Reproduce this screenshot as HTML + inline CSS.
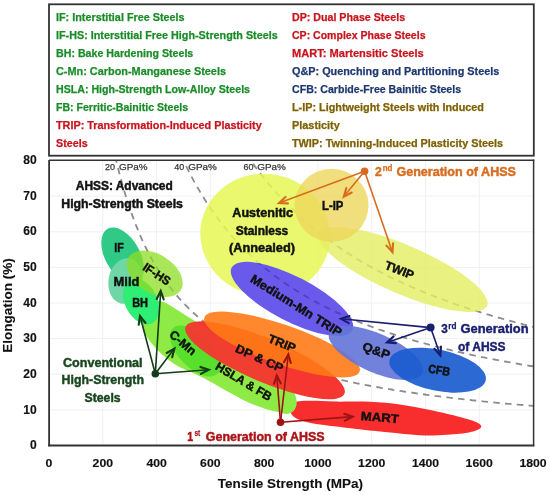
<!DOCTYPE html>
<html><head><meta charset="utf-8"><style>
html,body{margin:0;padding:0;background:#fff;}
svg{display:block;font-family:"Liberation Sans", Arial, sans-serif;}
</style></head><body>
<svg width="550" height="495" viewBox="0 0 550 495">
<rect x="49" y="4.3" width="484.8" height="151.4" fill="#fff" stroke="#333" stroke-width="1.8"/>
<text x="56" y="20.5" font-size="11" fill="#1a8c28" font-weight="bold" stroke="#1a8c28" stroke-width="0.25" textLength="128.6" lengthAdjust="spacingAndGlyphs">IF: Interstitial Free Steels</text>
<text x="56" y="38.6" font-size="11" fill="#1a8c28" font-weight="bold" stroke="#1a8c28" stroke-width="0.25" textLength="221.7" lengthAdjust="spacingAndGlyphs">IF-HS: Interstitial Free High-Strength Steels</text>
<text x="56" y="56.7" font-size="11" fill="#1a8c28" font-weight="bold" stroke="#1a8c28" stroke-width="0.25" textLength="137.3" lengthAdjust="spacingAndGlyphs">BH: Bake Hardening Steels</text>
<text x="56" y="74.8" font-size="11" fill="#1a8c28" font-weight="bold" stroke="#1a8c28" stroke-width="0.25" textLength="170.0" lengthAdjust="spacingAndGlyphs">C-Mn: Carbon-Manganese Steels</text>
<text x="56" y="92.9" font-size="11" fill="#1a8c28" font-weight="bold" stroke="#1a8c28" stroke-width="0.25" textLength="194.0" lengthAdjust="spacingAndGlyphs">HSLA: High-Strength Low-Alloy Steels</text>
<text x="56" y="111.0" font-size="11" fill="#1a8c28" font-weight="bold" stroke="#1a8c28" stroke-width="0.25" textLength="132.1" lengthAdjust="spacingAndGlyphs">FB: Ferritic-Bainitic Steels</text>
<text x="56" y="129.1" font-size="11" fill="#c8141e" font-weight="bold" stroke="#c8141e" stroke-width="0.25" textLength="205.7" lengthAdjust="spacingAndGlyphs">TRIP: Transformation-Induced Plasticity</text>
<text x="56" y="147.2" font-size="11" fill="#c8141e" font-weight="bold" stroke="#c8141e" stroke-width="0.25" textLength="31.6" lengthAdjust="spacingAndGlyphs">Steels</text>
<text x="292" y="20.5" font-size="11" fill="#c8141e" font-weight="bold" stroke="#c8141e" stroke-width="0.25" textLength="113.1" lengthAdjust="spacingAndGlyphs">DP: Dual Phase Steels</text>
<text x="292" y="38.6" font-size="11" fill="#c8141e" font-weight="bold" stroke="#c8141e" stroke-width="0.25" textLength="133.5" lengthAdjust="spacingAndGlyphs">CP: Complex Phase Steels</text>
<text x="292" y="56.7" font-size="11" fill="#c8141e" font-weight="bold" stroke="#c8141e" stroke-width="0.25" textLength="131.7" lengthAdjust="spacingAndGlyphs">MART: Martensitic Steels</text>
<text x="292" y="74.8" font-size="11" fill="#1f3870" font-weight="bold" stroke="#1f3870" stroke-width="0.25" textLength="207.3" lengthAdjust="spacingAndGlyphs">Q&amp;P: Quenching and Partitioning Steels</text>
<text x="292" y="92.9" font-size="11" fill="#1f3870" font-weight="bold" stroke="#1f3870" stroke-width="0.25" textLength="169.1" lengthAdjust="spacingAndGlyphs">CFB: Carbide-Free Bainitic Steels</text>
<text x="292" y="111.0" font-size="11" fill="#7f6000" font-weight="bold" stroke="#7f6000" stroke-width="0.25" textLength="192.0" lengthAdjust="spacingAndGlyphs">L-IP: Lightweight Steels with Induced</text>
<text x="292" y="129.1" font-size="11" fill="#7f6000" font-weight="bold" stroke="#7f6000" stroke-width="0.25" textLength="47.8" lengthAdjust="spacingAndGlyphs">Plasticity</text>
<text x="292" y="147.2" font-size="11" fill="#7f6000" font-weight="bold" stroke="#7f6000" stroke-width="0.25" textLength="211.1" lengthAdjust="spacingAndGlyphs">TWIP: Twinning-Induced Plasticity Steels</text>
<rect x="49" y="160.5" width="484.5" height="285" fill="#fff"/>
<line x1="102.8" y1="161" x2="102.8" y2="445" stroke="#f0f0f0" stroke-width="1"/>
<line x1="156.6" y1="161" x2="156.6" y2="445" stroke="#f0f0f0" stroke-width="1"/>
<line x1="210.3" y1="161" x2="210.3" y2="445" stroke="#f0f0f0" stroke-width="1"/>
<line x1="264.1" y1="161" x2="264.1" y2="445" stroke="#f0f0f0" stroke-width="1"/>
<line x1="317.9" y1="161" x2="317.9" y2="445" stroke="#f0f0f0" stroke-width="1"/>
<line x1="371.7" y1="161" x2="371.7" y2="445" stroke="#f0f0f0" stroke-width="1"/>
<line x1="425.5" y1="161" x2="425.5" y2="445" stroke="#f0f0f0" stroke-width="1"/>
<line x1="479.2" y1="161" x2="479.2" y2="445" stroke="#f0f0f0" stroke-width="1"/>
<line x1="50" y1="409.9" x2="533" y2="409.9" stroke="#f0f0f0" stroke-width="1"/>
<line x1="50" y1="374.2" x2="533" y2="374.2" stroke="#f0f0f0" stroke-width="1"/>
<line x1="50" y1="338.6" x2="533" y2="338.6" stroke="#f0f0f0" stroke-width="1"/>
<line x1="50" y1="303.0" x2="533" y2="303.0" stroke="#f0f0f0" stroke-width="1"/>
<line x1="50" y1="267.4" x2="533" y2="267.4" stroke="#f0f0f0" stroke-width="1"/>
<line x1="50" y1="231.8" x2="533" y2="231.8" stroke="#f0f0f0" stroke-width="1"/>
<line x1="50" y1="196.1" x2="533" y2="196.1" stroke="#f0f0f0" stroke-width="1"/>
<polyline points="116.2,160.5 118.3,169.1 120.4,177.1 122.5,184.7 124.6,191.9 126.6,198.7 128.7,205.2 130.8,211.3 132.9,217.1 135.0,222.7 137.1,227.9 139.1,233.0 141.2,237.8 143.3,242.4 145.4,246.8 147.5,251.0 149.6,255.0 151.7,258.9 153.7,262.6 155.8,266.1 157.9,269.6 160.0,272.9 162.1,276.1 164.2,279.1 166.2,282.1 168.3,284.9 170.4,287.7 172.5,290.4 174.6,292.9 176.7,295.4 178.7,297.8 180.8,300.2 182.9,302.4 185.0,304.6 187.1,306.7 189.2,308.8 191.2,310.8 193.3,312.8 195.4,314.6 197.5,316.5 199.6,318.3 201.7,320.0 203.8,321.7 205.8,323.3 207.9,324.9 210.0,326.5 212.1,328.0 214.2,329.5 216.3,331.0 218.3,332.4 220.4,333.7 222.5,335.1 224.6,336.4 226.7,337.7 228.8,338.9 230.8,340.1 232.9,341.3 235.0,342.5 237.1,343.6 239.2,344.8 241.3,345.8 243.3,346.9 245.4,348.0 247.5,349.0 249.6,350.0 251.7,351.0 253.8,351.9 255.9,352.9 257.9,353.8 260.0,354.7 262.1,355.6 264.2,356.5 266.3,357.3 268.4,358.2 270.4,359.0 272.5,359.8 274.6,360.6 276.7,361.4 278.8,362.1 280.9,362.9 282.9,363.6 285.0,364.3 287.1,365.0 289.2,365.7 291.3,366.4 293.4,367.1 295.4,367.8 297.5,368.4 299.6,369.1 301.7,369.7 303.8,370.3 305.9,370.9 308.0,371.5 310.0,372.1 312.1,372.7 314.2,373.3 316.3,373.8 318.4,374.4 320.5,374.9 322.5,375.5 324.6,376.0 326.7,376.5 328.8,377.0 330.9,377.5 333.0,378.0 335.0,378.5 337.1,379.0 339.2,379.5 341.3,380.0 343.4,380.4 345.5,380.9 347.5,381.3 349.6,381.8 351.7,382.2 353.8,382.6 355.9,383.1 358.0,383.5 360.1,383.9 362.1,384.3 364.2,384.7 366.3,385.1 368.4,385.5 370.5,385.9 372.6,386.3 374.6,386.7 376.7,387.0 378.8,387.4 380.9,387.8 383.0,388.1 385.1,388.5 387.1,388.8 389.2,389.2 391.3,389.5 393.4,389.9 395.5,390.2 397.6,390.5 399.6,390.9 401.7,391.2 403.8,391.5 405.9,391.8 408.0,392.1 410.1,392.4 412.1,392.7 414.2,393.0 416.3,393.3 418.4,393.6 420.5,393.9 422.6,394.2 424.7,394.5 426.7,394.8 428.8,395.1 430.9,395.3 433.0,395.6 435.1,395.9 437.2,396.1 439.2,396.4 441.3,396.7 443.4,396.9 445.5,397.2 447.6,397.4 449.7,397.7 451.7,397.9 453.8,398.2 455.9,398.4 458.0,398.7 460.1,398.9 462.2,399.1 464.2,399.4 466.3,399.6 468.4,399.8 470.5,400.0 472.6,400.3 474.7,400.5 476.8,400.7 478.8,400.9 480.9,401.1 483.0,401.4 485.1,401.6 487.2,401.8 489.3,402.0 491.3,402.2 493.4,402.4 495.5,402.6 497.6,402.8 499.7,403.0 501.8,403.2 503.8,403.4 505.9,403.6 508.0,403.8 510.1,403.9 512.2,404.1 514.3,404.3 516.3,404.5 518.4,404.7 520.5,404.9 522.6,405.0 524.7,405.2 526.8,405.4 528.9,405.6 530.9,405.7 533.0,405.9" fill="none" stroke="#8c8c8c" stroke-width="1.8" stroke-dasharray="6.5,5.3" stroke-dashoffset="4.14"/>
<polyline points="183.4,160.5 185.2,164.2 186.9,167.7 188.7,171.2 190.4,174.6 192.2,177.9 193.9,181.1 195.7,184.3 197.4,187.3 199.2,190.4 200.9,193.3 202.7,196.2 204.4,199.0 206.2,201.7 207.9,204.4 209.7,207.0 211.4,209.6 213.2,212.1 214.9,214.5 216.7,217.0 218.4,219.3 220.2,221.6 221.9,223.9 223.7,226.1 225.4,228.3 227.1,230.4 228.9,232.5 230.6,234.5 232.4,236.6 234.1,238.5 235.9,240.5 237.6,242.4 239.4,244.2 241.1,246.1 242.9,247.9 244.6,249.6 246.4,251.4 248.1,253.1 249.9,254.7 251.6,256.4 253.4,258.0 255.1,259.6 256.9,261.2 258.6,262.7 260.4,264.2 262.1,265.7 263.9,267.2 265.6,268.6 267.3,270.0 269.1,271.4 270.8,272.8 272.6,274.1 274.3,275.5 276.1,276.8 277.8,278.0 279.6,279.3 281.3,280.6 283.1,281.8 284.8,283.0 286.6,284.2 288.3,285.4 290.1,286.5 291.8,287.7 293.6,288.8 295.3,289.9 297.1,291.0 298.8,292.1 300.6,293.2 302.3,294.2 304.1,295.3 305.8,296.3 307.5,297.3 309.3,298.3 311.0,299.3 312.8,300.2 314.5,301.2 316.3,302.1 318.0,303.1 319.8,304.0 321.5,304.9 323.3,305.8 325.0,306.7 326.8,307.6 328.5,308.4 330.3,309.3 332.0,310.1 333.8,310.9 335.5,311.8 337.3,312.6 339.0,313.4 340.8,314.2 342.5,314.9 344.3,315.7 346.0,316.5 347.7,317.2 349.5,318.0 351.2,318.7 353.0,319.4 354.7,320.2 356.5,320.9 358.2,321.6 360.0,322.3 361.7,323.0 363.5,323.7 365.2,324.3 367.0,325.0 368.7,325.7 370.5,326.3 372.2,326.9 374.0,327.6 375.7,328.2 377.5,328.8 379.2,329.5 381.0,330.1 382.7,330.7 384.5,331.3 386.2,331.9 387.9,332.4 389.7,333.0 391.4,333.6 393.2,334.2 394.9,334.7 396.7,335.3 398.4,335.8 400.2,336.4 401.9,336.9 403.7,337.5 405.4,338.0 407.2,338.5 408.9,339.0 410.7,339.6 412.4,340.1 414.2,340.6 415.9,341.1 417.7,341.6 419.4,342.1 421.2,342.5 422.9,343.0 424.7,343.5 426.4,344.0 428.1,344.4 429.9,344.9 431.6,345.4 433.4,345.8 435.1,346.3 436.9,346.7 438.6,347.2 440.4,347.6 442.1,348.0 443.9,348.5 445.6,348.9 447.4,349.3 449.1,349.7 450.9,350.2 452.6,350.6 454.4,351.0 456.1,351.4 457.9,351.8 459.6,352.2 461.4,352.6 463.1,353.0 464.9,353.4 466.6,353.7 468.3,354.1 470.1,354.5 471.8,354.9 473.6,355.3 475.3,355.6 477.1,356.0 478.8,356.4 480.6,356.7 482.3,357.1 484.1,357.4 485.8,357.8 487.6,358.1 489.3,358.5 491.1,358.8 492.8,359.2 494.6,359.5 496.3,359.8 498.1,360.2 499.8,360.5 501.6,360.8 503.3,361.2 505.1,361.5 506.8,361.8 508.6,362.1 510.3,362.4 512.0,362.7 513.8,363.1 515.5,363.4 517.3,363.7 519.0,364.0 520.8,364.3 522.5,364.6 524.3,364.9 526.0,365.2 527.8,365.5 529.5,365.8 531.3,366.0 533.0,366.3" fill="none" stroke="#8c8c8c" stroke-width="1.8" stroke-dasharray="6.5,5.3" stroke-dashoffset="5.57"/>
<polyline points="250.7,160.5 252.1,162.5 253.5,164.4 254.9,166.4 256.3,168.3 257.7,170.1 259.1,172.0 260.6,173.8 262.0,175.6 263.4,177.4 264.8,179.1 266.2,180.9 267.6,182.6 269.0,184.3 270.4,185.9 271.9,187.6 273.3,189.2 274.7,190.8 276.1,192.4 277.5,194.0 278.9,195.5 280.3,197.0 281.7,198.5 283.1,200.0 284.6,201.5 286.0,202.9 287.4,204.4 288.8,205.8 290.2,207.2 291.6,208.6 293.0,210.0 294.4,211.3 295.9,212.7 297.3,214.0 298.7,215.3 300.1,216.6 301.5,217.9 302.9,219.1 304.3,220.4 305.7,221.6 307.1,222.8 308.6,224.1 310.0,225.3 311.4,226.4 312.8,227.6 314.2,228.8 315.6,229.9 317.0,231.1 318.4,232.2 319.8,233.3 321.3,234.4 322.7,235.5 324.1,236.6 325.5,237.6 326.9,238.7 328.3,239.7 329.7,240.8 331.1,241.8 332.6,242.8 334.0,243.8 335.4,244.8 336.8,245.8 338.2,246.8 339.6,247.7 341.0,248.7 342.4,249.6 343.8,250.6 345.3,251.5 346.7,252.4 348.1,253.3 349.5,254.2 350.9,255.1 352.3,256.0 353.7,256.9 355.1,257.8 356.6,258.6 358.0,259.5 359.4,260.3 360.8,261.2 362.2,262.0 363.6,262.8 365.0,263.6 366.4,264.4 367.8,265.2 369.3,266.0 370.7,266.8 372.1,267.6 373.5,268.4 374.9,269.1 376.3,269.9 377.7,270.7 379.1,271.4 380.6,272.1 382.0,272.9 383.4,273.6 384.8,274.3 386.2,275.0 387.6,275.8 389.0,276.5 390.4,277.2 391.8,277.9 393.3,278.5 394.7,279.2 396.1,279.9 397.5,280.6 398.9,281.2 400.3,281.9 401.7,282.5 403.1,283.2 404.6,283.8 406.0,284.5 407.4,285.1 408.8,285.7 410.2,286.4 411.6,287.0 413.0,287.6 414.4,288.2 415.8,288.8 417.3,289.4 418.7,290.0 420.1,290.6 421.5,291.2 422.9,291.8 424.3,292.4 425.7,292.9 427.1,293.5 428.6,294.1 430.0,294.6 431.4,295.2 432.8,295.7 434.2,296.3 435.6,296.8 437.0,297.4 438.4,297.9 439.8,298.4 441.3,299.0 442.7,299.5 444.1,300.0 445.5,300.5 446.9,301.0 448.3,301.6 449.7,302.1 451.1,302.6 452.6,303.1 454.0,303.6 455.4,304.1 456.8,304.6 458.2,305.0 459.6,305.5 461.0,306.0 462.4,306.5 463.8,306.9 465.3,307.4 466.7,307.9 468.1,308.3 469.5,308.8 470.9,309.3 472.3,309.7 473.7,310.2 475.1,310.6 476.6,311.1 478.0,311.5 479.4,311.9 480.8,312.4 482.2,312.8 483.6,313.2 485.0,313.7 486.4,314.1 487.8,314.5 489.3,314.9 490.7,315.4 492.1,315.8 493.5,316.2 494.9,316.6 496.3,317.0 497.7,317.4 499.1,317.8 500.6,318.2 502.0,318.6 503.4,319.0 504.8,319.4 506.2,319.8 507.6,320.2 509.0,320.6 510.4,320.9 511.8,321.3 513.3,321.7 514.7,322.1 516.1,322.4 517.5,322.8 518.9,323.2 520.3,323.5 521.7,323.9 523.1,324.3 524.5,324.6 526.0,325.0 527.4,325.3 528.8,325.7 530.2,326.1 531.6,326.4 533.0,326.8" fill="none" stroke="#8c8c8c" stroke-width="1.8" stroke-dasharray="6.5,5.3" stroke-dashoffset="7.8"/>
<text x="105.1" y="170.4" font-size="9.6" fill="#363636" stroke="#363636" stroke-width="0.25" textLength="10" lengthAdjust="spacingAndGlyphs">20</text>
<text x="119.0" y="170.4" font-size="9.6" fill="#363636" stroke="#363636" stroke-width="0.25" textLength="28.6" lengthAdjust="spacingAndGlyphs">GPa%</text>
<text x="174.3" y="170.4" font-size="9.6" fill="#363636" stroke="#363636" stroke-width="0.25" textLength="10" lengthAdjust="spacingAndGlyphs">40</text>
<text x="188.2" y="170.4" font-size="9.6" fill="#363636" stroke="#363636" stroke-width="0.25" textLength="28.6" lengthAdjust="spacingAndGlyphs">GPa%</text>
<text x="243.4" y="170.4" font-size="9.6" fill="#363636" stroke="#363636" stroke-width="0.25" textLength="10" lengthAdjust="spacingAndGlyphs">60</text>
<text x="257.3" y="170.4" font-size="9.6" fill="#363636" stroke="#363636" stroke-width="0.25" textLength="28.6" lengthAdjust="spacingAndGlyphs">GPa%</text>
<ellipse cx="265.2" cy="234.9" rx="65" ry="61" transform="rotate(10 265.2 234.9)" fill="#e5f754" fill-opacity="0.85"/>
<ellipse cx="403" cy="269.5" rx="91.5" ry="24.3" transform="rotate(23.3 403 269.5)" fill="#e4ee60" fill-opacity="0.8"/>
<ellipse cx="331.5" cy="205.3" rx="37" ry="36.6" transform="rotate(0 331.5 205.3)" fill="#eed75c" fill-opacity="0.8"/>
<ellipse cx="292" cy="298.9" rx="68" ry="22.3" transform="rotate(27.4 292 298.9)" fill="#695aec"/>
<clipPath id="cpMM"><ellipse cx="292" cy="298.9" rx="68" ry="22.3" transform="rotate(27.4 292 298.9)"/></clipPath>
<polyline points="183.4,160.5 185.2,164.2 186.9,167.7 188.7,171.2 190.4,174.6 192.2,177.9 193.9,181.1 195.7,184.3 197.4,187.3 199.2,190.4 200.9,193.3 202.7,196.2 204.4,199.0 206.2,201.7 207.9,204.4 209.7,207.0 211.4,209.6 213.2,212.1 214.9,214.5 216.7,217.0 218.4,219.3 220.2,221.6 221.9,223.9 223.7,226.1 225.4,228.3 227.1,230.4 228.9,232.5 230.6,234.5 232.4,236.6 234.1,238.5 235.9,240.5 237.6,242.4 239.4,244.2 241.1,246.1 242.9,247.9 244.6,249.6 246.4,251.4 248.1,253.1 249.9,254.7 251.6,256.4 253.4,258.0 255.1,259.6 256.9,261.2 258.6,262.7 260.4,264.2 262.1,265.7 263.9,267.2 265.6,268.6 267.3,270.0 269.1,271.4 270.8,272.8 272.6,274.1 274.3,275.5 276.1,276.8 277.8,278.0 279.6,279.3 281.3,280.6 283.1,281.8 284.8,283.0 286.6,284.2 288.3,285.4 290.1,286.5 291.8,287.7 293.6,288.8 295.3,289.9 297.1,291.0 298.8,292.1 300.6,293.2 302.3,294.2 304.1,295.3 305.8,296.3 307.5,297.3 309.3,298.3 311.0,299.3 312.8,300.2 314.5,301.2 316.3,302.1 318.0,303.1 319.8,304.0 321.5,304.9 323.3,305.8 325.0,306.7 326.8,307.6 328.5,308.4 330.3,309.3 332.0,310.1 333.8,310.9 335.5,311.8 337.3,312.6 339.0,313.4 340.8,314.2 342.5,314.9 344.3,315.7 346.0,316.5 347.7,317.2 349.5,318.0 351.2,318.7 353.0,319.4 354.7,320.2 356.5,320.9 358.2,321.6 360.0,322.3 361.7,323.0 363.5,323.7 365.2,324.3 367.0,325.0 368.7,325.7 370.5,326.3 372.2,326.9 374.0,327.6 375.7,328.2 377.5,328.8 379.2,329.5 381.0,330.1 382.7,330.7 384.5,331.3 386.2,331.9 387.9,332.4 389.7,333.0 391.4,333.6 393.2,334.2 394.9,334.7 396.7,335.3 398.4,335.8 400.2,336.4 401.9,336.9 403.7,337.5 405.4,338.0 407.2,338.5 408.9,339.0 410.7,339.6 412.4,340.1 414.2,340.6 415.9,341.1 417.7,341.6 419.4,342.1 421.2,342.5 422.9,343.0 424.7,343.5 426.4,344.0 428.1,344.4 429.9,344.9 431.6,345.4 433.4,345.8 435.1,346.3 436.9,346.7 438.6,347.2 440.4,347.6 442.1,348.0 443.9,348.5 445.6,348.9 447.4,349.3 449.1,349.7 450.9,350.2 452.6,350.6 454.4,351.0 456.1,351.4 457.9,351.8 459.6,352.2 461.4,352.6 463.1,353.0 464.9,353.4 466.6,353.7 468.3,354.1 470.1,354.5 471.8,354.9 473.6,355.3 475.3,355.6 477.1,356.0 478.8,356.4 480.6,356.7 482.3,357.1 484.1,357.4 485.8,357.8 487.6,358.1 489.3,358.5 491.1,358.8 492.8,359.2 494.6,359.5 496.3,359.8 498.1,360.2 499.8,360.5 501.6,360.8 503.3,361.2 505.1,361.5 506.8,361.8 508.6,362.1 510.3,362.4 512.0,362.7 513.8,363.1 515.5,363.4 517.3,363.7 519.0,364.0 520.8,364.3 522.5,364.6 524.3,364.9 526.0,365.2 527.8,365.5 529.5,365.8 531.3,366.0 533.0,366.3" fill="none" stroke="#5040c8" stroke-width="1.8" stroke-dasharray="6.5,5.3" stroke-dashoffset="5.57" clip-path="url(#cpMM)"/>
<path d="M290.5,409.5 C290.8,407.3 291.2,403.8 294.5,402.3 C297.8,400.9 303.3,400.9 310.0,400.8 C316.7,400.7 324.5,401.4 334.5,401.6 C344.5,401.8 359.1,401.3 370.0,401.8 C380.9,402.3 390.0,403.1 400.0,404.5 C410.0,405.9 420.0,407.9 430.0,410.0 C440.0,412.1 452.3,415.0 460.0,417.0 C467.7,419.0 472.4,420.4 476.0,422.0 C479.6,423.6 481.3,425.1 481.3,426.5 C481.3,427.9 479.6,429.3 476.0,430.5 C472.4,431.7 468.6,433.0 460.0,433.8 C451.4,434.6 437.8,435.8 424.5,435.4 C411.2,435.0 392.0,432.6 380.0,431.5 C368.0,430.4 363.3,429.8 352.7,428.5 C342.1,427.2 325.2,425.4 316.4,424.0 C307.6,422.6 304.0,421.4 300.0,420.0 C296.0,418.6 294.1,417.2 292.5,415.5 C290.9,413.8 290.2,411.7 290.5,409.5Z" fill="#f82e2e"/>
<path d="M143.0,313.0 C144.3,309.3 147.0,305.9 150.0,304.0 C153.0,302.1 156.8,300.6 161.0,301.3 C165.2,302.1 170.2,305.7 175.0,308.5 C179.8,311.3 184.2,314.4 190.0,318.0 C195.8,321.6 201.7,325.0 210.0,330.0 C218.3,335.0 230.0,342.0 240.0,348.0 C250.0,354.0 261.8,360.0 270.0,366.0 C278.2,372.0 284.6,378.5 289.0,384.0 C293.4,389.5 295.3,394.8 296.3,399.0 C297.3,403.2 296.4,406.5 295.0,409.0 C293.6,411.5 290.8,413.3 288.0,413.8 C285.2,414.3 282.1,412.9 278.0,412.0 C273.9,411.1 268.4,409.8 263.6,408.2 C258.8,406.6 252.9,404.4 249.0,402.7 C245.1,401.0 243.2,399.8 240.0,398.2 C236.8,396.6 233.3,394.6 230.0,392.8 C226.7,391.0 223.3,389.1 220.0,387.2 C216.7,385.3 213.3,383.3 210.0,381.5 C206.7,379.7 203.5,378.0 200.0,376.3 C196.5,374.6 192.8,372.9 189.0,371.2 C185.2,369.5 181.4,368.3 177.5,366.0 C173.6,363.7 169.4,360.8 165.3,357.3 C161.2,353.8 156.3,348.8 153.2,345.2 C150.1,341.6 148.4,339.2 146.5,336.0 C144.6,332.8 142.6,329.8 142.0,326.0 C141.4,322.2 141.7,316.7 143.0,313.0Z" fill="#8eea45"/>
<ellipse cx="195.3" cy="351" rx="31.9" ry="16.6" transform="rotate(45.7 195.3 351)" fill="#58e02c"/>
<clipPath id="cpRed"><ellipse cx="265" cy="360.3" rx="86.2" ry="21.6" transform="rotate(22.9 265 360.3)"/></clipPath>
<ellipse cx="265" cy="360.3" rx="86.2" ry="21.6" transform="rotate(22.9 265 360.3)" fill="#f63630"/>
<g clip-path="url(#cpRed)" opacity="0.05">
<path d="M143.0,313.0 C144.3,309.3 147.0,305.9 150.0,304.0 C153.0,302.1 156.8,300.6 161.0,301.3 C165.2,302.1 170.2,305.7 175.0,308.5 C179.8,311.3 184.2,314.4 190.0,318.0 C195.8,321.6 201.7,325.0 210.0,330.0 C218.3,335.0 230.0,342.0 240.0,348.0 C250.0,354.0 261.8,360.0 270.0,366.0 C278.2,372.0 284.6,378.5 289.0,384.0 C293.4,389.5 295.3,394.8 296.3,399.0 C297.3,403.2 296.4,406.5 295.0,409.0 C293.6,411.5 290.8,413.3 288.0,413.8 C285.2,414.3 282.1,412.9 278.0,412.0 C273.9,411.1 268.4,409.8 263.6,408.2 C258.8,406.6 252.9,404.4 249.0,402.7 C245.1,401.0 243.2,399.8 240.0,398.2 C236.8,396.6 233.3,394.6 230.0,392.8 C226.7,391.0 223.3,389.1 220.0,387.2 C216.7,385.3 213.3,383.3 210.0,381.5 C206.7,379.7 203.5,378.0 200.0,376.3 C196.5,374.6 192.8,372.9 189.0,371.2 C185.2,369.5 181.4,368.3 177.5,366.0 C173.6,363.7 169.4,360.8 165.3,357.3 C161.2,353.8 156.3,348.8 153.2,345.2 C150.1,341.6 148.4,339.2 146.5,336.0 C144.6,332.8 142.6,329.8 142.0,326.0 C141.4,322.2 141.7,316.7 143.0,313.0Z" fill="#8eea45"/>
<ellipse cx="195.3" cy="351" rx="31.9" ry="16.6" transform="rotate(45.7 195.3 351)" fill="#58e02c"/>
</g>
<ellipse cx="282" cy="344.5" rx="82.2" ry="19.8" transform="rotate(19.2 282 344.5)" fill="#ff7a16" fill-opacity="0.9"/>
<ellipse cx="375.9" cy="352.9" rx="50.9" ry="19.4" transform="rotate(23.7 375.9 352.9)" fill="#6374d8" fill-opacity="0.9"/>
<ellipse cx="437.6" cy="370.2" rx="49.2" ry="20.6" transform="rotate(11.8 437.6 370.2)" fill="#1a5cce" fill-opacity="0.92"/>
<ellipse cx="122.6" cy="255.6" rx="30.7" ry="17.4" transform="rotate(60.9 122.6 255.6)" fill="#2fca86"/>
<ellipse cx="125.5" cy="281" rx="23" ry="17" transform="rotate(-80 125.5 281)" fill="#6fd7a6"/>
<ellipse cx="141.3" cy="301.5" rx="24.3" ry="16.3" transform="rotate(63.1 141.3 301.5)" fill="#2eee74"/>
<ellipse cx="154.7" cy="273.8" rx="30.8" ry="19.4" transform="rotate(32.3 154.7 273.8)" fill="#8cdd1f" fill-opacity="0.74"/>
<line x1="49" y1="160.3" x2="534.3" y2="160.3" stroke="#333" stroke-width="1.5"/>
<line x1="533.6" y1="159.6" x2="533.6" y2="446.3" stroke="#333" stroke-width="1.5"/>
<line x1="49.1" y1="160" x2="49.1" y2="446.3" stroke="#333" stroke-width="1.8"/>
<line x1="48.2" y1="445.5" x2="534.3" y2="445.5" stroke="#333" stroke-width="1.8"/>
<text x="75.8" y="190" font-size="12" fill="#111" font-weight="bold" stroke="#111" stroke-width="0.45" textLength="96.9" lengthAdjust="spacingAndGlyphs">AHSS: Advanced</text>
<text x="61.3" y="208.3" font-size="12" fill="#111" font-weight="bold" stroke="#111" stroke-width="0.45" textLength="121.6" lengthAdjust="spacingAndGlyphs">High-Strength Steels</text>
<text x="262.7" y="216.8" font-size="12" fill="#111" font-weight="bold" stroke="#111" stroke-width="0.45" textLength="60.8" lengthAdjust="spacingAndGlyphs" text-anchor="middle">Austenitic</text>
<text x="262" y="234.5" font-size="12" fill="#111" font-weight="bold" stroke="#111" stroke-width="0.45" textLength="52.4" lengthAdjust="spacingAndGlyphs" text-anchor="middle">Stainless</text>
<text x="262" y="252.3" font-size="12" fill="#111" font-weight="bold" stroke="#111" stroke-width="0.45" textLength="66" lengthAdjust="spacingAndGlyphs" text-anchor="middle">(Annealed)</text>
<text x="322" y="210" font-size="12" fill="#111" font-weight="bold" stroke="#111" stroke-width="0.45" textLength="21.3" lengthAdjust="spacingAndGlyphs">L-IP</text>
<text x="114.2" y="251.7" font-size="12" fill="#111" font-weight="bold" stroke="#111" stroke-width="0.45" textLength="9.5" lengthAdjust="spacingAndGlyphs">IF</text>
<text x="113.6" y="285.9" font-size="12" fill="#111" font-weight="bold" stroke="#111" stroke-width="0.45" textLength="25.8" lengthAdjust="spacingAndGlyphs">Mild</text>
<text x="132.2" y="306.6" font-size="12" fill="#111" font-weight="bold" stroke="#111" stroke-width="0.45" textLength="15.8" lengthAdjust="spacingAndGlyphs">BH</text>
<text x="154.5" y="277.5" font-size="12" fill="#111" font-weight="bold" stroke="#111" stroke-width="0.45" textLength="30" lengthAdjust="spacingAndGlyphs" text-anchor="middle" transform="rotate(33 154.5 277.5)">IF-HS</text>
<text x="180.2" y="345.8" font-size="12" fill="#111" font-weight="bold" stroke="#111" stroke-width="0.45" textLength="31" lengthAdjust="spacingAndGlyphs" text-anchor="middle" transform="rotate(40.5 180.2 345.8)">C-Mn</text>
<text x="241.5" y="385" font-size="12" fill="#111" font-weight="bold" stroke="#111" stroke-width="0.45" textLength="63" lengthAdjust="spacingAndGlyphs" text-anchor="middle" transform="rotate(31 241.5 385)">HSLA &amp; FB</text>
<text x="257.7" y="362" font-size="12" fill="#111" font-weight="bold" stroke="#111" stroke-width="0.45" textLength="51" lengthAdjust="spacingAndGlyphs" text-anchor="middle" transform="rotate(24.6 257.7 362)">DP &amp; CP</text>
<text x="280.5" y="347" font-size="12" fill="#111" font-weight="bold" stroke="#111" stroke-width="0.45" textLength="28.5" lengthAdjust="spacingAndGlyphs" text-anchor="middle" transform="rotate(22 280.5 347)">TRIP</text>
<text x="294" y="309" font-size="12.3" fill="#111" font-weight="bold" stroke="#111" stroke-width="0.45" textLength="105" lengthAdjust="spacingAndGlyphs" text-anchor="middle" transform="rotate(32 294 309)">Medium-Mn TRIP</text>
<text x="374.8" y="354.6" font-size="12.3" fill="#111" font-weight="bold" stroke="#111" stroke-width="0.45" textLength="28.5" lengthAdjust="spacingAndGlyphs" text-anchor="middle" transform="rotate(20 374.8 354.6)">Q&amp;P</text>
<text x="438.5" y="374.3" font-size="12" fill="#111" font-weight="bold" stroke="#111" stroke-width="0.45" textLength="22" lengthAdjust="spacingAndGlyphs" text-anchor="middle" transform="rotate(9 438.5 374.3)">CFB</text>
<text x="398" y="274" font-size="12" fill="#111" font-weight="bold" stroke="#111" stroke-width="0.45" textLength="30" lengthAdjust="spacingAndGlyphs" text-anchor="middle" transform="rotate(21 398 274)">TWIP</text>
<text x="379.5" y="421.5" font-size="12" fill="#111" font-weight="bold" stroke="#111" stroke-width="0.45" textLength="38" lengthAdjust="spacingAndGlyphs" text-anchor="middle" transform="rotate(4.7 379.5 421.5)">MART</text>
<line x1="364.6" y1="171.3" x2="279" y2="203" stroke="#d86c1e" stroke-width="1.6"/>
<polyline points="287.9,203.4 279,203 285.5,196.9" fill="none" stroke="#d86c1e" stroke-width="2.1" stroke-linecap="round" stroke-linejoin="miter" stroke-miterlimit="6"/>
<line x1="364.6" y1="171.3" x2="343.8" y2="196.6" stroke="#d86c1e" stroke-width="1.6"/>
<polyline points="351.7,192.5 343.8,196.6 346.3,188.0" fill="none" stroke="#d86c1e" stroke-width="2.1" stroke-linecap="round" stroke-linejoin="miter" stroke-miterlimit="6"/>
<line x1="364.6" y1="171.3" x2="392.5" y2="252.2" stroke="#d86c1e" stroke-width="1.6"/>
<polyline points="393.1,243.3 392.5,252.2 386.5,245.6" fill="none" stroke="#d86c1e" stroke-width="2.1" stroke-linecap="round" stroke-linejoin="miter" stroke-miterlimit="6"/>
<circle cx="364.6" cy="171.3" r="3.8" fill="#d86c1e"/>
<text x="375" y="176.2" font-size="13" fill="#d86c1e" font-weight="bold" stroke="#d86c1e" stroke-width="0.45" textLength="6.8" lengthAdjust="spacingAndGlyphs">2</text>
<text x="382.7" y="171.2" font-size="9" fill="#d86c1e" font-weight="bold" stroke="#d86c1e" stroke-width="0.25" textLength="9.6" lengthAdjust="spacingAndGlyphs">nd</text>
<text x="396.4" y="176.2" font-size="13" fill="#d86c1e" font-weight="bold" stroke="#d86c1e" stroke-width="0.45" textLength="119.6" lengthAdjust="spacingAndGlyphs">Generation of AHSS</text>
<line x1="155.3" y1="373.8" x2="140" y2="316" stroke="#143c19" stroke-width="1.6"/>
<polyline points="138.7,324.8 140,316 145.5,323.0" fill="none" stroke="#143c19" stroke-width="2.1" stroke-linecap="round" stroke-linejoin="miter" stroke-miterlimit="6"/>
<line x1="155.3" y1="373.8" x2="160.7" y2="291" stroke="#143c19" stroke-width="1.6"/>
<polyline points="156.7,299.0 160.7,291 163.7,299.4" fill="none" stroke="#143c19" stroke-width="2.1" stroke-linecap="round" stroke-linejoin="miter" stroke-miterlimit="6"/>
<line x1="155.3" y1="373.8" x2="174.4" y2="348.6" stroke="#143c19" stroke-width="1.6"/>
<polyline points="166.7,353.0 174.4,348.6 172.2,357.2" fill="none" stroke="#143c19" stroke-width="2.1" stroke-linecap="round" stroke-linejoin="miter" stroke-miterlimit="6"/>
<line x1="155.3" y1="373.8" x2="208.8" y2="369.8" stroke="#143c19" stroke-width="1.6"/>
<polyline points="200.4,366.9 208.8,369.8 200.9,373.9" fill="none" stroke="#143c19" stroke-width="2.1" stroke-linecap="round" stroke-linejoin="miter" stroke-miterlimit="6"/>
<circle cx="155.3" cy="373.8" r="3.8" fill="#143c19"/>
<text x="63" y="367" font-size="12.5" fill="#19461e" font-weight="bold" stroke="#19461e" stroke-width="0.45" textLength="79.6" lengthAdjust="spacingAndGlyphs">Conventional</text>
<text x="61.6" y="384" font-size="12.5" fill="#19461e" font-weight="bold" stroke="#19461e" stroke-width="0.45" textLength="82.4" lengthAdjust="spacingAndGlyphs">High-Strength</text>
<text x="84.6" y="402" font-size="12.5" fill="#19461e" font-weight="bold" stroke="#19461e" stroke-width="0.45" textLength="36" lengthAdjust="spacingAndGlyphs">Steels</text>
<line x1="280.5" y1="422.3" x2="352.7" y2="416.6" stroke="#9e1414" stroke-width="1.6"/>
<polyline points="344.2,413.8 352.7,416.6 344.8,420.7" fill="none" stroke="#9e1414" stroke-width="2.1" stroke-linecap="round" stroke-linejoin="miter" stroke-miterlimit="6"/>
<line x1="280.5" y1="422.5" x2="276.8" y2="375.5" stroke="#9e1414" stroke-width="1.6"/>
<polyline points="274.0,383.9 276.8,375.5 280.9,383.4" fill="none" stroke="#9e1414" stroke-width="2.1" stroke-linecap="round" stroke-linejoin="miter" stroke-miterlimit="6"/>
<line x1="280.5" y1="422.5" x2="288.3" y2="354.5" stroke="#9e1414" stroke-width="1.6"/>
<polyline points="283.9,362.2 288.3,354.5 290.8,363.0" fill="none" stroke="#9e1414" stroke-width="2.1" stroke-linecap="round" stroke-linejoin="miter" stroke-miterlimit="6"/>
<circle cx="280.5" cy="422.3" r="3.8" fill="#9e1414"/>
<text x="187.2" y="440.5" font-size="12.5" fill="#aa1419" font-weight="bold" stroke="#aa1419" stroke-width="0.45" textLength="5.9" lengthAdjust="spacingAndGlyphs">1</text>
<text x="194.5" y="435.8" font-size="9" fill="#aa1419" font-weight="bold" stroke="#aa1419" stroke-width="0.25" textLength="5.8" lengthAdjust="spacingAndGlyphs">st</text>
<text x="205.8" y="440.5" font-size="12.5" fill="#aa1419" font-weight="bold" stroke="#aa1419" stroke-width="0.45" textLength="118.8" lengthAdjust="spacingAndGlyphs">Generation of AHSS</text>
<line x1="430.6" y1="327.6" x2="341" y2="318.8" stroke="#191e6e" stroke-width="1.6"/>
<polyline points="348.8,323.1 341,318.8 349.5,316.1" fill="none" stroke="#191e6e" stroke-width="2.1" stroke-linecap="round" stroke-linejoin="miter" stroke-miterlimit="6"/>
<line x1="430.6" y1="327.6" x2="387" y2="342.4" stroke="#191e6e" stroke-width="1.6"/>
<polyline points="395.9,343.1 387,342.4 393.6,336.4" fill="none" stroke="#191e6e" stroke-width="2.1" stroke-linecap="round" stroke-linejoin="miter" stroke-miterlimit="6"/>
<line x1="430.6" y1="327.6" x2="440.4" y2="355.4" stroke="#191e6e" stroke-width="1.6"/>
<polyline points="441.0,346.5 440.4,355.4 434.4,348.8" fill="none" stroke="#191e6e" stroke-width="2.1" stroke-linecap="round" stroke-linejoin="miter" stroke-miterlimit="6"/>
<circle cx="430.6" cy="327.6" r="4" fill="#191e6e"/>
<text x="441.3" y="332.5" font-size="13" fill="#191e6e" font-weight="bold" stroke="#191e6e" stroke-width="0.45" textLength="6.5" lengthAdjust="spacingAndGlyphs">3</text>
<text x="448.3" y="328.6" font-size="9" fill="#191e6e" font-weight="bold" stroke="#191e6e" stroke-width="0.25" textLength="8.2" lengthAdjust="spacingAndGlyphs">rd</text>
<text x="460.5" y="332.5" font-size="13" fill="#191e6e" font-weight="bold" stroke="#191e6e" stroke-width="0.45" textLength="68.1" lengthAdjust="spacingAndGlyphs">Generation</text>
<text x="458" y="350.6" font-size="13" fill="#191e6e" font-weight="bold" stroke="#191e6e" stroke-width="0.45" textLength="47.6" lengthAdjust="spacingAndGlyphs">of AHSS</text>
<text x="36.6" y="449.1" font-size="12" fill="#111" font-weight="bold" stroke="#111" stroke-width="0.15" textLength="6.7" lengthAdjust="spacingAndGlyphs" text-anchor="end">0</text>
<text x="36.6" y="413.5" font-size="12" fill="#111" font-weight="bold" stroke="#111" stroke-width="0.15" textLength="13.4" lengthAdjust="spacingAndGlyphs" text-anchor="end">10</text>
<text x="36.6" y="377.9" font-size="12" fill="#111" font-weight="bold" stroke="#111" stroke-width="0.15" textLength="13.4" lengthAdjust="spacingAndGlyphs" text-anchor="end">20</text>
<text x="36.6" y="342.2" font-size="12" fill="#111" font-weight="bold" stroke="#111" stroke-width="0.15" textLength="13.4" lengthAdjust="spacingAndGlyphs" text-anchor="end">30</text>
<text x="36.6" y="306.6" font-size="12" fill="#111" font-weight="bold" stroke="#111" stroke-width="0.15" textLength="13.4" lengthAdjust="spacingAndGlyphs" text-anchor="end">40</text>
<text x="36.6" y="271.0" font-size="12" fill="#111" font-weight="bold" stroke="#111" stroke-width="0.15" textLength="13.4" lengthAdjust="spacingAndGlyphs" text-anchor="end">50</text>
<text x="36.6" y="235.3" font-size="12" fill="#111" font-weight="bold" stroke="#111" stroke-width="0.15" textLength="13.4" lengthAdjust="spacingAndGlyphs" text-anchor="end">60</text>
<text x="36.6" y="199.7" font-size="12" fill="#111" font-weight="bold" stroke="#111" stroke-width="0.15" textLength="13.4" lengthAdjust="spacingAndGlyphs" text-anchor="end">70</text>
<text x="36.6" y="164.1" font-size="12" fill="#111" font-weight="bold" stroke="#111" stroke-width="0.15" textLength="13.4" lengthAdjust="spacingAndGlyphs" text-anchor="end">80</text>
<text x="49.0" y="467" font-size="11" fill="#111" font-weight="bold" stroke="#111" stroke-width="0.15" textLength="6.8" lengthAdjust="spacingAndGlyphs" text-anchor="middle">0</text>
<text x="102.8" y="467" font-size="11" fill="#111" font-weight="bold" stroke="#111" stroke-width="0.15" textLength="20.4" lengthAdjust="spacingAndGlyphs" text-anchor="middle">200</text>
<text x="156.6" y="467" font-size="11" fill="#111" font-weight="bold" stroke="#111" stroke-width="0.15" textLength="20.4" lengthAdjust="spacingAndGlyphs" text-anchor="middle">400</text>
<text x="210.3" y="467" font-size="11" fill="#111" font-weight="bold" stroke="#111" stroke-width="0.15" textLength="20.4" lengthAdjust="spacingAndGlyphs" text-anchor="middle">600</text>
<text x="264.1" y="467" font-size="11" fill="#111" font-weight="bold" stroke="#111" stroke-width="0.15" textLength="20.4" lengthAdjust="spacingAndGlyphs" text-anchor="middle">800</text>
<text x="317.9" y="467" font-size="11" fill="#111" font-weight="bold" stroke="#111" stroke-width="0.15" textLength="27.2" lengthAdjust="spacingAndGlyphs" text-anchor="middle">1000</text>
<text x="371.7" y="467" font-size="11" fill="#111" font-weight="bold" stroke="#111" stroke-width="0.15" textLength="27.2" lengthAdjust="spacingAndGlyphs" text-anchor="middle">1200</text>
<text x="425.5" y="467" font-size="11" fill="#111" font-weight="bold" stroke="#111" stroke-width="0.15" textLength="27.2" lengthAdjust="spacingAndGlyphs" text-anchor="middle">1400</text>
<text x="479.2" y="467" font-size="11" fill="#111" font-weight="bold" stroke="#111" stroke-width="0.15" textLength="27.2" lengthAdjust="spacingAndGlyphs" text-anchor="middle">1600</text>
<text x="533.0" y="467" font-size="11" fill="#111" font-weight="bold" stroke="#111" stroke-width="0.15" textLength="27.2" lengthAdjust="spacingAndGlyphs" text-anchor="middle">1800</text>
<text x="290.3" y="488" font-size="13.5" fill="#111" font-weight="bold" stroke="#111" stroke-width="0.1" text-anchor="middle">Tensile Strength (MPa)</text>
<text transform="translate(11.9 305.4) rotate(-90)" x="0" y="0" fill="#111" font-size="13.5" font-weight="bold" text-anchor="middle" stroke="#111" stroke-width="0.1">Elongation (%)</text>
</svg>
</body></html>
